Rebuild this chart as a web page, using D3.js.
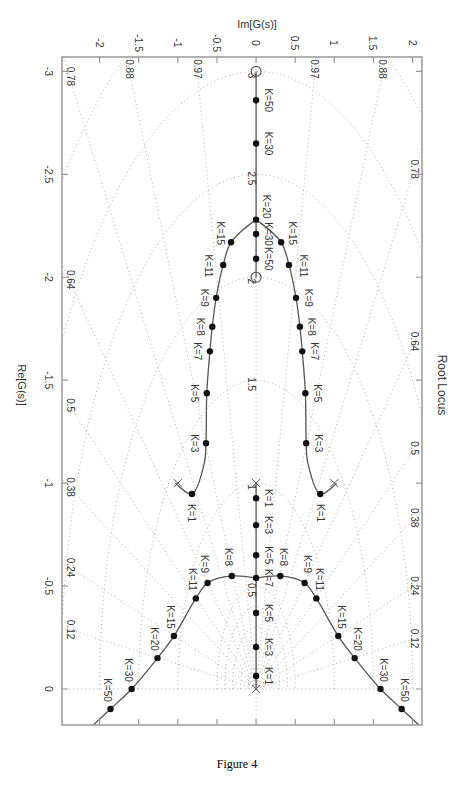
<!DOCTYPE html>
<html><head><meta charset="utf-8">
<script src="https://cdn.jsdelivr.net/npm/d3@7"></script>
<style>body{margin:0;background:#fff}text{font-family:"Liberation Sans",Arial,sans-serif}</style>
</head><body><svg id="c" width="474" height="787"></svg>
<script>
// Data: [Re, Im, K-label]
const imTicks=[-2,-1.5,-1,-0.5,0,0.5,1,1.5,2];
const reTicks=[-3,-2.5,-2,-1.5,-1,-0.5,0];
const zetas=[0.12,0.24,0.38,0.5,0.64,0.78,0.88,0.97];
const wnCircles=[0.1,0.2,0.3,0.4,0.5,1,1.5,2,2.5,3,3.5];
const wnLabels=[0.5,1,1.5,2,2.5,3];
const poles=[[0,0],[-1,0],[-1,1],[-1,-1]];
const zeros=[[-3,0],[-2,0]];
const realTop=[[-3,0,""],[-2.86,0,"K=50"],[-2.65,0,"K=30"],[-2.28,0,"K=20"]];
const realTop2=[[-2.28,0,""],[-2.21,0,"K=30"],[-2.09,0,"K=50"],[-2.0,0,""]];
const cplxUpper=[[-1,-1.03,""],[-0.947,-0.82,"K=1"],[-1.10,-0.66,""],[-1.194,-0.64,"K=3"],[-1.437,-0.63,"K=5"],[-1.64,-0.59,"K=7"],[-1.76,-0.56,"K=8"],[-1.90,-0.51,"K=9"],[-2.06,-0.42,"K=11"],[-2.17,-0.32,"K=15"],[-2.28,0,""]];
const realLow1=[[-1,0,""],[-0.927,0,"K=1"],[-0.796,0,"K=3"],[-0.65,0,"K=5"],[-0.539,0,""]];
const realLow2=[[0,0,""],[-0.063,0,"K=1"],[-0.204,0,"K=3"],[-0.369,0,"K=5"],[-0.539,0,"K=7"]];
const cplxLower=[[-0.539,0,""],[-0.549,-0.31,"K=8"],[-0.515,-0.62,"K=9"],[-0.44,-0.77,"K=11"],[-0.257,-1.05,"K=15"],[-0.15,-1.26,"K=20"],[0,-1.59,"K=30"],[0.097,-1.86,"K=50"],[0.175,-2.08,""]];

const svg=d3.select("#c");
const X0=62,X1=422,Y0=57,Y1=725;
const xs=d3.scaleLinear().domain([-2.48,2.12]).range([X0,X1]);
const ys=d3.scaleLinear().domain([-3.07,0.175]).range([Y0,Y1]);
const P=(re,im)=>[xs(im),ys(re)];
svg.append("clipPath").attr("id","clp").append("rect").attr("x",X0).attr("y",Y0).attr("width",X1-X0).attr("height",Y1-Y0);
const g=svg.append("g").attr("clip-path","url(#clp)");
const line=d3.line();
const grid="#aaa";
wnCircles.forEach(w=>{
  const pts=d3.range(-90,90.1,2).map(a=>{const t=a*Math.PI/180;return P(-w*Math.cos(t),w*Math.sin(t));});
  g.append("path").attr("d",line(pts)).attr("fill","none").attr("stroke",grid).attr("stroke-width",0.9).attr("stroke-dasharray","1,3");
});
zetas.forEach(z=>{[1,-1].forEach(s=>{
  g.append("path").attr("d",line([P(0,0),P(-6*z,s*6*Math.sqrt(1-z*z))])).attr("stroke",grid).attr("stroke-width",0.9).attr("stroke-dasharray","1,3");
});});
g.append("path").attr("d",line([P(0,-3),P(0,3)])).attr("stroke",grid).attr("stroke-dasharray","1,3");
g.append("path").attr("d",line([P(-4,0),P(1,0)])).attr("stroke",grid).attr("stroke-dasharray","1,3");

function rtext(x,y,t,size,anchor,fam){
  return svg.append("text").attr("transform",`translate(${x},${y}) rotate(90)`).attr("text-anchor",anchor||"middle")
   .attr("dominant-baseline","central").attr("font-size",size||10).attr("fill","#333").text(t).style("font-family",fam||null);
}
zetas.forEach(z=>{[1,-1].forEach(s=>{
  const dx=s*78*Math.sqrt(1-z*z),dy=-206*z;const [ox,oy]=P(0,0);
  let t=1e9;
  if(dx<0)t=Math.min(t,(X0+8-ox)/dx); else t=Math.min(t,(X1-8-ox)/dx);
  t=Math.min(t,(Y0+12-oy)/dy);
  rtext(ox+dx*t,oy+dy*t,String(z),10);
});});
wnLabels.forEach(w=>rtext(xs(0)-5,ys(-w)+4,String(w),10));

const branches=[realTop,realTop2,cplxUpper,cplxUpper.map(d=>[d[0],-d[1],d[2]]),realLow1,realLow2,cplxLower,cplxLower.map(d=>[d[0],-d[1],d[2]])];
const curve=d3.line().curve(d3.curveCatmullRom.alpha(0.5));
branches.forEach((b,i)=>{
  g.append("path").attr("d",curve(b.map(d=>P(d[0],d[1])))).attr("fill","none").attr("stroke","#555").attr("stroke-width",1.3);
});
branches.forEach((b,i)=>{
  b.forEach(d=>{
    if(!d[2])return;
    const [x,y]=P(d[0],d[1]);
    svg.append("circle").attr("cx",x).attr("cy",y).attr("r",3.2).attr("fill","#111");
    const side=d[1]<0?-1:1;
    let lx=x+side*12,ly=y;
    if(i===6||i===7){lx=x+side*3;ly=y-19;}
    if(i===2||i===3){
      if(d[2]==="K=1"){lx=x;ly=y+19;}
      if(d[2]==="K=15"){lx=x+side*11;ly=y-9;}
      if(d[2]==="K=11"){lx=x+side*15;ly=y+1;}
    }
    if(i===0&&d[2]==="K=20"){lx=x+10;ly=y-13;}
    rtext(lx,ly,d[2],10);
  });
});
poles.forEach(p=>{const [x,y]=P(p[0],p[1]);
  svg.append("path").attr("d",`M${x-4},${y-4}L${x+4},${y+4}M${x-4},${y+4}L${x+4},${y-4}`).attr("stroke","#555").attr("stroke-width",1);});
zeros.forEach(p=>{const [x,y]=P(p[0],p[1]);
  svg.append("circle").attr("cx",x).attr("cy",y).attr("r",5).attr("fill","none").attr("stroke","#555").attr("stroke-width",1.2);});

svg.append("rect").attr("x",X0).attr("y",Y0).attr("width",X1-X0).attr("height",Y1-Y0).attr("fill","none").attr("stroke","#999").attr("stroke-width",1.5);
imTicks.forEach(v=>{const x=xs(v);
  svg.append("path").attr("d",`M${x},${Y0}v6M${x},${Y1}v-6`).attr("stroke","#999").attr("stroke-width",1.2);
  rtext(x,Y0-14,String(v),10.5);});
reTicks.forEach(v=>{const y=ys(v);
  svg.append("path").attr("d",`M${X0},${y}h6M${X1},${y}h-6`).attr("stroke","#999").attr("stroke-width",1.2);
  rtext(X0-13,y,String(v),10.5);});
svg.append("text").attr("x",257).attr("y",28).attr("text-anchor","middle").attr("font-size",11).attr("fill","#333").text("Im[G(s)]");
rtext(22,385,"Re[G(s)]",11);
rtext(442,385,"Root Locus",12);
svg.append("text").attr("x",237).attr("y",768).attr("text-anchor","middle").attr("font-size",12).style("font-family","'Liberation Serif',serif").text("Figure 4");
</script></body></html>
